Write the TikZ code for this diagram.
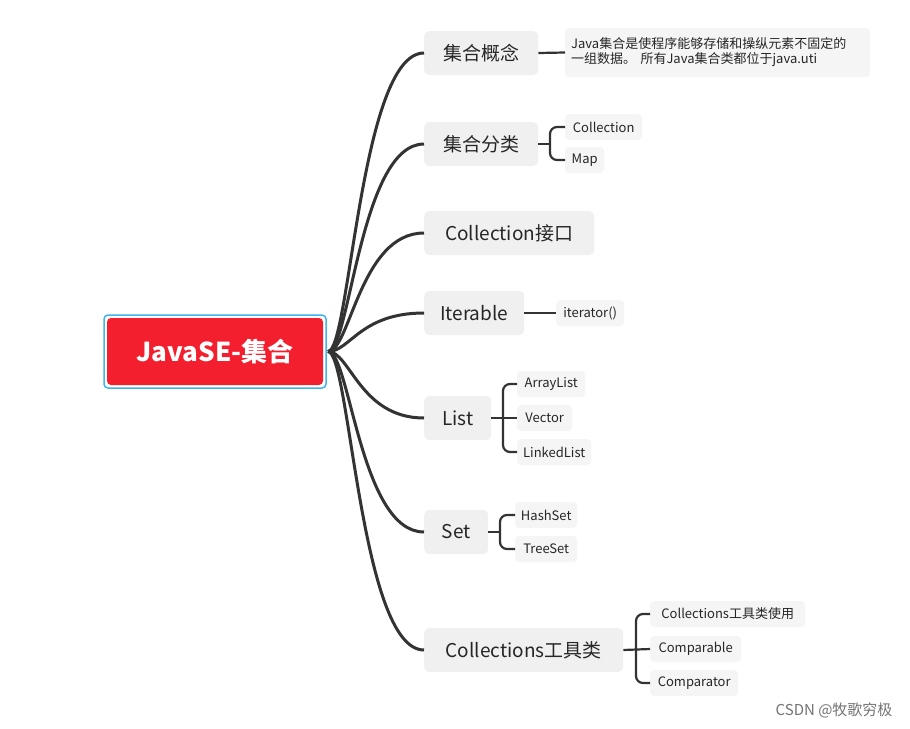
\documentclass[tikz,border=0pt]{standalone}
\usepackage{fontspec}
\setmainfont{Noto Sans CJK SC}
\definecolor{rootred}{HTML}{F41F2E}
\definecolor{ring}{HTML}{3FB5EA}
\begin{document}
\begin{tikzpicture}[x=1pt,y=-1pt,
  br/.style={draw=none,fill=black!6,rounded corners=5,anchor=west,inner sep=0,minimum height=44,font=\fontsize{19}{22}\selectfont,text=black!85},
  lf/.style={fill=black!4,rounded corners=4,anchor=west,inner sep=0,minimum height=26,font=\fontsize{13}{15}\selectfont,text=black!85},
  cn/.style={draw=black!80,line width=3pt},
  sc/.style={draw=black!80,line width=2.2pt,rounded corners=7}]
\useasboundingbox (0,0) rectangle (910,728);
\fill[white] (0,0) rectangle (910,728);
\node[draw=ring,line width=1.5pt,rounded corners=4,minimum width=222,minimum height=73,inner sep=0] (ringbox) at (215,351.5) {};
\node[fill=rootred,rounded corners=4,minimum width=216,minimum height=67,inner sep=0,font=\bfseries\fontsize{26}{30}\selectfont,text=white] (root) at (215,351.5) {JavaSE-集合};
\coordinate (r) at (328,351.5);
\node[br,minimum width=114] (b1) at (424,53) {集合概念};
\node[br,minimum width=114] (b2) at (424,144) {集合分类};
\node[br,minimum width=170] (b3) at (424,233) {Collection接口};
\node[br,minimum width=100] (b4) at (424,313) {Iterable};
\node[br,minimum width=67] (b5) at (424,418) {List};
\node[br,minimum width=64] (b6) at (424,532) {Set};
\node[br,minimum width=199] (b7) at (424,650) {Collections工具类};
\foreach \b in {b1,b2,b3,b4,b5,b6,b7}{
  \draw[cn] (r) .. controls (350,351.5) and (360,0|-\b.west) .. (\b.west);
}
\node[lf,minimum width=305,minimum height=49,align=left,text width=293,inner xsep=6] (l1) at (565,52.5) {Java集合是使程序能够存储和操纵元素不固定的\\一组数据。 所有Java集合类都位于java.uti};
\draw[cn,line width=2.2pt] (b1.east) -- (l1.west);
\node[lf,minimum width=77] (c1) at (565,127) {Collection};
\node[lf,minimum width=39] (c2) at (565,160) {Map};
\coordinate (f2) at (550,144);
\draw[sc] (b2.east) -- (f2);
\draw[sc] (f2) |- (c1.west); \draw[sc] (f2) |- (c2.west);
\node[lf,minimum width=68] (it) at (556,313) {iterator()};
\draw[cn,line width=2.2pt] (b4.east) -- (it.west);
\node[lf,minimum width=68] (a1) at (517,384) {ArrayList};
\node[lf,minimum width=55] (a2) at (517,418) {Vector};
\node[lf,minimum width=74] (a3) at (517,452) {LinkedList};
\coordinate (f5) at (503,418);
\draw[sc] (b5.east) -- (a2.west);
\draw[sc] (f5) |- (a1.west); \draw[sc] (f5) |- (a3.west);
\node[lf,minimum width=62] (s1) at (515,515) {HashSet};
\node[lf,minimum width=62] (s2) at (515,549) {TreeSet};
\coordinate (f6) at (500,532);
\draw[sc] (b6.east) -- (f6);
\draw[sc] (f6) |- (s1.west); \draw[sc] (f6) |- (s2.west);
\node[lf,minimum width=155] (t1) at (650,614) {Collections工具类使用};
\node[lf,minimum width=91] (t2) at (650,649) {Comparable};
\node[lf,minimum width=88] (t3) at (650,683) {Comparator};
\coordinate (f7) at (636,649);
\draw[sc] (b7.east) -- (t2.west);
\draw[sc] (f7) |- (t1.west); \draw[sc] (f7) |- (t3.west);
\node[anchor=east,font=\fontsize{15}{18}\selectfont,text=black!55] (wm) at (896,710) {CSDN @牧歌穷极};
\end{tikzpicture}
\end{document}
